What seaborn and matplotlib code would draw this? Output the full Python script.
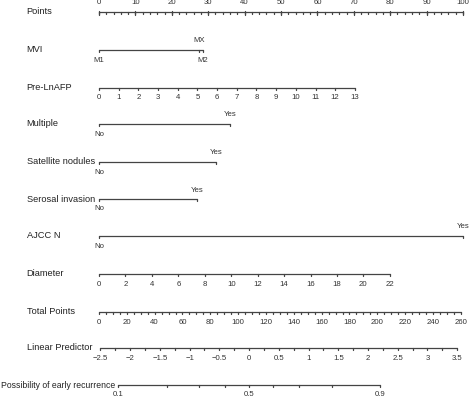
import numpy as np
import pandas as pd
import matplotlib
matplotlib.use("Agg")
import matplotlib.pyplot as plt
import seaborn as sns

# nomogram scales (positions are in "Points" units, 0-100)
row_names = ["Points", "MVI", "Pre-LnAFP", "Multiple", "Satellite nodules",
             "Serosal invasion", "AJCC N", "Diameter", "Total Points",
             "Linear Predictor", "Possibility of early recurrence"]

points_labels = [0, 10, 20, 30, 40, 50, 60, 70, 80, 90, 100]
points_ticks = list(range(0, 101, 2))

mvi_levels = ["M1", "MX", "M2"]
mvi_points = [0, 27.5, 28.6]

lnafp_values = list(range(0, 14))
lnafp_max_points = 70.3

yes_no = ["No", "Yes"]
multiple_points = [0, 36.0]
satellite_points = [0, 32.1]
serosal_points = [0, 27.0]
ajcc_points = [0, 100.0]

diameter_values = list(range(0, 23, 2))
diameter_max_points = 79.9

total_labels = list(range(0, 261, 20))
total_ticks = list(range(0, 261, 5))
total_max_points = 99.4

lp_labels = [-2.5, -2, -1.5, -1, -0.5, 0, 0.5, 1, 1.5, 2, 2.5, 3, 3.5]
lp_ticks = list(np.arange(-2.5, 3.51, 0.25))
lp_at_points = (0.4, 98.4)

prob_ticks = [0.1, 0.2, 0.3, 0.4, 0.5, 0.6, 0.7, 0.8, 0.9]
prob_labels = [0.1, 0.5, 0.9]

PX = 3.64          # pixels per point
X0 = 99            # pixel of 0 points
row_y = [12, 50, 88, 124, 162, 199, 236, 274, 312, 348, 385]

sns.set_theme(style="white")
plt.rcParams["font.family"] = ["Liberation Sans", "DejaVu Sans"]

fig = plt.figure(figsize=(4.74, 3.99), dpi=100)
ax = fig.add_axes([0, 0, 1, 1])

segs = []


def seg(xa, xb, ya, yb):
    k = len(segs)
    segs.append({"x": xa, "y": ya, "seg": k})
    segs.append({"x": xb, "y": yb, "seg": k})


def scale(y, pos, tick=2.2):
    seg(min(pos), max(pos), y, y)
    for p in pos:
        seg(p, p, y, y + tick)


def lp_to_pts(v):
    a, b = lp_at_points
    return a + (v - lp_labels[0]) / (lp_labels[-1] - lp_labels[0]) * (b - a)


lab_kw = dict(fontsize=5.6, color="#333333", ha="center", va="center")
fs_row = 6.7

# Points
y = row_y[0]
scale(y, points_ticks, 2.0)
for v in points_labels:
    seg(v, v, y - 0.8, y + 2.8)
    ax.text(v, y - 9, str(v), **lab_kw)

# MVI
y = row_y[1]
scale(y, mvi_points)
for lv, p in zip(mvi_levels, mvi_points):
    dy = -9 if lv == "MX" else 10
    ax.text(p, y + dy, lv, **lab_kw)

# Pre-LnAFP
y = row_y[2]
pos = [v / lnafp_values[-1] * lnafp_max_points for v in lnafp_values]
scale(y, pos)
for v, p in zip(lnafp_values, pos):
    ax.text(p, y + 9.5, str(v), **lab_kw)

# binary rows
for i, pts in zip([3, 4, 5, 6], [multiple_points, satellite_points, serosal_points, ajcc_points]):
    y = row_y[i]
    scale(y, pts)
    ax.text(pts[0], y + 10, yes_no[0], **lab_kw)
    ax.text(pts[1], y - 9, yes_no[1], **lab_kw)

# Diameter
y = row_y[7]
pos = [v / diameter_values[-1] * diameter_max_points for v in diameter_values]
scale(y, pos)
for v, p in zip(diameter_values, pos):
    ax.text(p, y + 10, str(v), **lab_kw)

# Total points
y = row_y[8]
scale(y, [v / total_labels[-1] * total_max_points for v in total_ticks])
for v in total_labels:
    ax.text(v / total_labels[-1] * total_max_points, y + 11, str(v), **lab_kw)

# Linear predictor
y = row_y[9]
scale(y, [lp_to_pts(v) for v in lp_ticks])
for v in lp_labels:
    s = ("%g" % v).replace("-", "\u2212")
    ax.text(lp_to_pts(v), y + 10, s, **lab_kw)

# Probability
y = row_y[10]
ppos = [lp_to_pts(np.log(p / (1 - p))) for p in prob_ticks]
scale(y, ppos)
for p in prob_labels:
    ax.text(lp_to_pts(np.log(p / (1 - p))), y + 9, "%g" % p, **lab_kw)

df = pd.DataFrame(segs)
sns.lineplot(data=df, x="x", y="y", units="seg", estimator=None, sort=False,
             color="#444444", linewidth=0.9, ax=ax)

for name, y in zip(row_names, row_y):
    if name.startswith("Possibility"):
        ax.text(-27.0, y, name, fontsize=6.2, color="#222222", ha="left", va="center")
    else:
        ax.text((26.7 - X0) / PX, y, name, fontsize=fs_row, color="#222222",
                ha="left", va="center")

ax.set_xlim(-X0 / PX, (474 - X0) / PX)
ax.set_ylim(399, 0)
ax.axis("off")
fig.savefig("out.png", dpi=100)
